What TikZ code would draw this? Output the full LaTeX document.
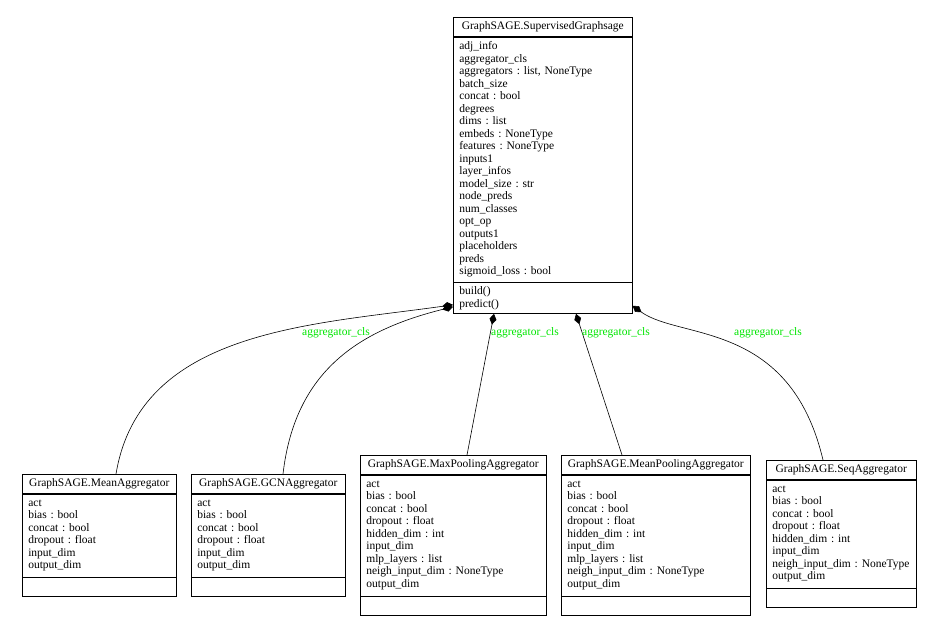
\documentclass[tikz,border=0pt]{standalone}
\usepackage{fontspec}
\setmainfont{Liberation Serif}
\usetikzlibrary{arrows.meta,calc}
\frenchspacing
\begin{document}
\begin{tikzpicture}[x=1pt,y=-1pt,
  every node/.style={font=\fontsize{11.5}{12.5}\selectfont},
  ttl/.style={draw, line width=0.6pt, anchor=north west, inner sep=0pt, minimum height=19pt},
  attrs/.style={draw, line width=0.6pt, anchor=north west, align=left, inner xsep=6pt, inner ysep=0pt},
  meths/.style={draw, line width=0.6pt, anchor=north west, align=left, inner xsep=6pt, inner ysep=0pt},
  comp/.style={line width=0.6pt, {Diamond[length=11pt,width=7pt]}-},
  lbl/.style={text=green!90!black, inner sep=0pt}
]
\useasboundingbox (0,0) rectangle (927,627);

% top class
\node[ttl, minimum width=179pt] (topt) at (453,17) {GraphSAGE.SupervisedGraphsage};
\node[attrs, text width=167pt, minimum height=245pt] (topa) at (topt.south west) {adj\_info\\aggregator\_cls\\aggregators : list, NoneType\\batch\_size\\concat : bool\\degrees\\dims : list\\embeds : NoneType\\features : NoneType\\inputs1\\layer\_infos\\model\_size : str\\node\_preds\\num\_classes\\opt\_op\\outputs1\\placeholders\\preds\\sigmoid\_loss : bool};
\node[meths, text width=167pt, minimum height=31pt] (topm) at (topa.south west) {build()\\predict()};

% MeanAggregator
\node[ttl, minimum width=154pt] (mat) at (22,474) {GraphSAGE.MeanAggregator};
\node[attrs, text width=142pt, minimum height=83pt] (maa) at (mat.south west) {act\\bias : bool\\concat : bool\\dropout : float\\input\_dim\\output\_dim};
\node[meths, text width=142pt, minimum height=19pt] (mam) at (maa.south west) {};

% GCNAggregator
\node[ttl, minimum width=154pt] (gct) at (191,474) {GraphSAGE.GCNAggregator};
\node[attrs, text width=142pt, minimum height=83pt] (gca) at (gct.south west) {act\\bias : bool\\concat : bool\\dropout : float\\input\_dim\\output\_dim};
\node[meths, text width=142pt, minimum height=19pt] (gcm) at (gca.south west) {};

% MaxPoolingAggregator
\node[ttl, minimum width=186pt] (mpt) at (360,455) {GraphSAGE.MaxPoolingAggregator};
\node[attrs, text width=174pt, minimum height=121pt] (mpa) at (mpt.south west) {act\\bias : bool\\concat : bool\\dropout : float\\hidden\_dim : int\\input\_dim\\mlp\_layers : list\\neigh\_input\_dim : NoneType\\output\_dim};
\node[meths, text width=174pt, minimum height=19pt] (mpm) at (mpa.south west) {};

% MeanPoolingAggregator
\node[ttl, minimum width=189pt] (mnt) at (561,455) {GraphSAGE.MeanPoolingAggregator};
\node[attrs, text width=177pt, minimum height=121pt] (mna) at (mnt.south west) {act\\bias : bool\\concat : bool\\dropout : float\\hidden\_dim : int\\input\_dim\\mlp\_layers : list\\neigh\_input\_dim : NoneType\\output\_dim};
\node[meths, text width=177pt, minimum height=19pt] (mnm) at (mna.south west) {};

% SeqAggregator
\node[ttl, minimum width=150pt] (sqt) at (766,460) {GraphSAGE.SeqAggregator};
\node[attrs, text width=138pt, minimum height=108pt] (sqa) at (sqt.south west) {act\\bias : bool\\concat : bool\\dropout : float\\hidden\_dim : int\\input\_dim\\neigh\_input\_dim : NoneType\\output\_dim};
\node[meths, text width=138pt, minimum height=19pt] (sqm) at (sqa.south west) {};

% connector end points
\coordinate (s1) at ($(topm.south west)+(0,-9)$);
\coordinate (s2) at ($(topm.south west)+(0,-7)$);
\coordinate (s3) at ($(topm.south west)+(41,0)$);
\coordinate (s4) at ($(topm.south west)+(123,0)$);
\coordinate (s5) at ($(topm.south east)+(0,-8)$);
\coordinate (e1) at ($(mat.north west)+(94,0)$);
\coordinate (e2) at ($(gct.north west)+(92,0)$);
\coordinate (e3) at ($(mpt.north west)+(107,0)$);
\coordinate (e4) at ($(mnt.north west)+(61,0)$);
\coordinate (e5) at ($(sqt.north west)+(57,0)$);

\draw[comp] (s1) .. controls (310,325) and (140,330) .. (e1);
\draw[comp] (s2) .. controls (360,330) and (295,370) .. (e2);
\draw[comp] (s3) -- (e3);
\draw[comp] (s4) -- (e4);
\draw[comp] (s5) .. controls (680,340) and (790,320) .. (e5);

\node[lbl] (l1) at (336,333) {aggregator\_cls};
\node[lbl] (l2) at (525,333) {aggregator\_cls};
\node[lbl] (l3) at (616,333) {aggregator\_cls};
\node[lbl] (l4) at (768,333) {aggregator\_cls};
\end{tikzpicture}
\end{document}
